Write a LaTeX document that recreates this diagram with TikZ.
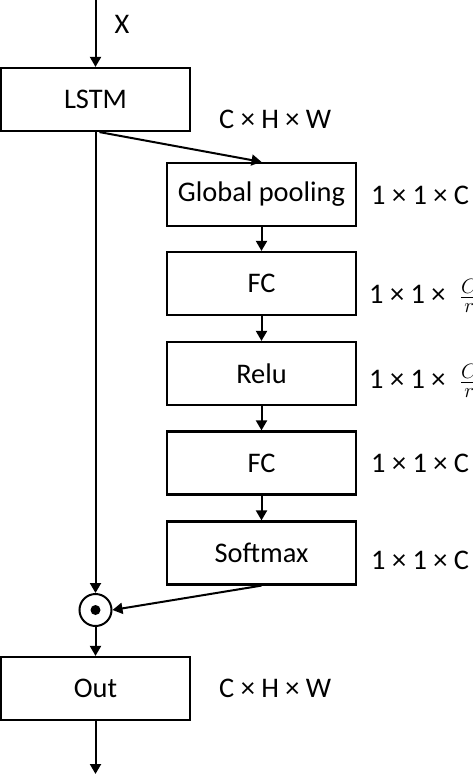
\documentclass[tikz,border=0pt]{standalone}
\usepackage{fontspec}
\setmainfont{Carlito}
\usetikzlibrary{arrows.meta}
\tikzset{
  block/.style={draw, line width=2.2pt, minimum width=189pt, minimum height=63pt, inner sep=0pt},
  flow/.style={line width=2pt, -{Triangle[length=10pt,width=11pt]}},
  dims/.style={anchor=west, inner sep=0pt},
  ratio/.style={anchor=base west, inner sep=0pt}
}
\begin{document}
\begin{tikzpicture}[x=1pt, y=-1pt]
			%%%%% START %%%%%
			\fontsize{28.4}{34}\selectfont
			\useasboundingbox (0, 0) rectangle (473, 774);
			
			\coordinate (xin) at (95.5, 0);
			\coordinate (xout) at (95.5, 774);
			
			\node[block] (lstm) at (95.5, 99.5) {LSTM};
			\node[block] (gpool) at (261.5, 194.5) {Global pooling};
			\node[block] (fcA) at (261.5, 283.5) {FC};
			\node[block] (relu) at (261.5, 373.5) {Relu};
			\node[block] (fcB) at (261.5, 463) {FC};
			\node[block] (smax) at (261.5, 553) {Softmax};
			\node[draw, circle, line width=2pt, minimum size=32pt, inner sep=0pt] (mul) at (95.5, 610) {};
			\fill (mul.center) circle (5pt);
			\node[block] (out) at (95.5, 688.5) {Out};
			
			\node (xlab) at (122, 24) {X};
			\node[dims] (dimA) at (219, 119) {C × H × W};
			\node[dims] (dimB) at (371, 195) {1 × 1 × C};
			\node[ratio] (dimC) at (369, 303.5) {1 × 1 ×\hspace{8pt} $\frac{C}{r}$};
			\node[ratio] (dimD) at (369, 388.5) {1 × 1 ×\hspace{8pt} $\frac{C}{r}$};
			\node[dims] (dimE) at (371, 463) {1 × 1 × C};
			\node[dims] (dimF) at (371, 560) {1 × 1 × C};
			\node[dims] (dimG) at (219, 688) {C × H × W};
			
			\draw[flow] (xin) -- (lstm.north);
			\draw[flow] ([xshift=4pt]lstm.south) -- (gpool.north);
			\foreach \a/\b in {gpool/fcA, fcA/relu, relu/fcB, fcB/smax}
				\draw[flow] (\a.south) -- (\b.north);
			\draw[flow] (lstm.south) -- (mul.north);
			\draw[flow] (smax.south) -- (mul.east);
			\draw[flow] (mul.south) -- (out.north);
			\draw[flow] (out.south) -- (xout);
			%%%%% END %%%%%
\end{tikzpicture}
\end{document}
